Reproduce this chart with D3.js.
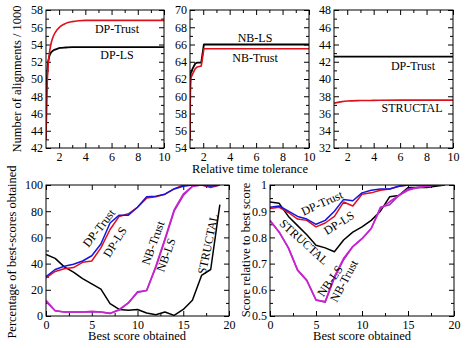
<!DOCTYPE html>
<html>
<head>
<meta charset="utf-8">
<script src="https://cdn.jsdelivr.net/npm/d3@7"></script>
<style>
  html, body { margin: 0; padding: 0; background: #fff; }
  svg, svg text { font-family: "Liberation Serif", "DejaVu Serif", serif; }
  svg { display: block; }
</style>
</head>
<body>
<svg id="chart" width="474" height="348"></svg>
<script>
// ---- Data ---------------------------------------------------------------
// Top row: alignments found vs. relative time tolerance
const tolA = [1, 1.03, 1.08, 1.15, 1.25, 1.4, 1.6, 1.85, 2.1, 2.5, 3, 3.5, 4, 5, 6, 8, 10];
const dpTrustA = [43, 46, 49, 51.3, 52.9, 54.2, 55.1, 55.7, 56.1, 56.45, 56.65, 56.75, 56.8, 56.8, 56.8, 56.8, 56.8];
const dpLsA    = [43, 47.5, 50.3, 51.8, 52.6, 53.1, 53.35, 53.5, 53.6, 53.65, 53.7, 53.7, 53.7, 53.7, 53.7, 53.7, 53.7];

const tolB = [1, 1.02, 1.06, 1.2, 1.4, 1.55, 1.85, 2.05, 10];
const nbTrustB = [55, 60.5, 62.1, 62.6, 63.2, 63.4, 63.5, 65.5, 65.5];
const nbLsB    = [55, 61.5, 62.7, 63.2, 63.8, 63.9, 63.9, 66.0, 66.0];

const tolC = [1, 1.5, 2, 3, 4, 6, 8, 10];
const dpTrustC  = [42.6, 42.6, 42.6, 42.6, 42.6, 42.6, 42.6, 42.6];
const structalC = [37.2, 37.35, 37.45, 37.5, 37.52, 37.55, 37.55, 37.55];

// Bottom row: per best-score bucket
const bestScore = d3.range(0, 20);
const pctDpTrust  = [30, 35.5, 38, 39.5, 42, 46, 55, 71, 77, 77, 83, 91, 91.5, 93, 97, 99, 100, 100, 99, 100];
const pctDpLs     = [29, 34, 36, 37, 41, 42, 52, 66, 76, 78, 83, 90, 91, 93, 97, 100, 100, 100, 98, 100];
const pctNbTrust  = [12, 4, 3, 3, 3, 3.5, 3, 2, 5, 10, 18.5, 19.5, 38, 59, 81, 93, 99, 100, 100, 100];
const pctNbLs     = [11, 4, 3, 3, 3, 3, 3, 2, 4.5, 10, 18, 19.5, 37, 58, 80, 92, 99, 100, 100, 100];
const pctStructal = [47, 44, 37.5, 33.5, 28.5, 24.5, 20.5, 9.5, 5, 4.3, 5, 2.3, 1, 3, 0.5, 5, 12, 31, 35.5, 85];

const relDpTrust  = [0.915, 0.92, 0.9, 0.88, 0.87, 0.85, 0.865, 0.9, 0.945, 0.94, 0.97, 0.98, 0.985, 0.985, 0.995, 1, 1, 1, 1, 1];
const relDpLs     = [0.91, 0.915, 0.895, 0.87, 0.865, 0.84, 0.855, 0.88, 0.935, 0.92, 0.965, 0.97, 0.98, 0.985, 0.995, 1, 1, 1, 1, 1];
const relStructal = [0.935, 0.93, 0.88, 0.845, 0.81, 0.77, 0.76, 0.745, 0.79, 0.82, 0.84, 0.865, 0.9, 0.955, 0.96, 0.99, 0.99, 0.99, 0.995, 1];
const relNbLs     = [0.865, 0.82, 0.76, 0.675, 0.636, 0.56, 0.555, 0.65, 0.72, 0.765, 0.795, 0.834, 0.91, 0.936, 0.96, 0.98, 0.99, 0.995, 1, 1];
const relNbTrust  = [0.865, 0.82, 0.76, 0.675, 0.636, 0.562, 0.553, 0.645, 0.715, 0.765, 0.795, 0.834, 0.915, 0.925, 0.96, 0.985, 0.99, 0.995, 1, 1];

const RED = "#e0101a", BLUE = "#1515e0", BLACK = "#000", MAGENTA = "#cc22cc", VIOLET = "#9a2ad0";
const FONT = "'Liberation Serif', 'DejaVu Serif', serif";

// ---- Drawing helpers ----------------------------------------------------
const svg = d3.select("#chart");

function panel(o) {
  const x = d3.scaleLinear().domain(o.xDomain).range([o.left, o.right]);
  const y = d3.scaleLinear().domain(o.yDomain).range([o.bottom, o.top]);
  const g = svg.append("g");

  const addAxis = (axis, transform, labels) => {
    const a = g.append("g").attr("transform", transform).call(axis)
      .attr("font-family", FONT).attr("font-size", 12);
    a.select(".domain").remove();
    a.selectAll("text").attr("fill", "#000");
    if (!labels) a.selectAll("text").remove();
    a.selectAll("line").attr("stroke", "#000");
  };
  // major + minor ticks on all four sides, pointing inward
  addAxis(d3.axisBottom(x).tickValues(o.xMajor).tickSize(-5).tickPadding(4).tickFormat(o.xFmt || d3.format("")), `translate(0,${o.bottom})`, true);
  addAxis(d3.axisBottom(x).tickValues(o.xMinor).tickSize(-3).tickFormat(""), `translate(0,${o.bottom})`, false);
  addAxis(d3.axisTop(x).tickValues(o.xMajor).tickSize(-5), `translate(0,${o.top})`, false);
  addAxis(d3.axisTop(x).tickValues(o.xMinor).tickSize(-3), `translate(0,${o.top})`, false);
  addAxis(d3.axisLeft(y).tickValues(o.yMajor).tickSize(-5).tickPadding(3).tickFormat(o.yFmt || d3.format("")), `translate(${o.left},0)`, true);
  addAxis(d3.axisLeft(y).tickValues(o.yMinor).tickSize(-3).tickFormat(""), `translate(${o.left},0)`, false);
  addAxis(d3.axisRight(y).tickValues(o.yMajor).tickSize(-5), `translate(${o.right},0)`, false);
  addAxis(d3.axisRight(y).tickValues(o.yMinor).tickSize(-3), `translate(${o.right},0)`, false);

  const clipId = "clip" + Math.round(o.left) + "_" + Math.round(o.top);
  svg.append("clipPath").attr("id", clipId).append("rect")
    .attr("x", o.left).attr("y", o.top).attr("width", o.right - o.left).attr("height", o.bottom - o.top);
  const plot = g.append("g").attr("clip-path", `url(#${clipId})`);

  o.series.forEach(s => {
    const line = d3.line().x((d, i) => x(s.x[i])).y(d => y(d)).curve(s.curve || d3.curveLinear);
    plot.append("path").datum(s.values)
      .attr("fill", "none").attr("stroke", s.color).attr("stroke-width", s.width || 1.5)
      .attr("stroke-linejoin", "round").attr("d", line);
  });

  g.append("rect").attr("x", o.left).attr("y", o.top)
    .attr("width", o.right - o.left).attr("height", o.bottom - o.top)
    .attr("fill", "none").attr("stroke", "#000").attr("stroke-width", 1);

  (o.labels || []).forEach(l => {
    g.append("text").attr("transform", `translate(${l.x},${l.y}) rotate(${l.rot || 0})`)
      .attr("text-anchor", "middle").attr("dominant-baseline", "central")
      .attr("font-family", FONT).attr("font-size", 12).attr("fill", "#000").text(l.text);
  });
  return { x, y };
}

function axisTitle(text, x, y, rot) {
  svg.append("text").attr("transform", `translate(${x},${y}) rotate(${rot || 0})`)
    .attr("text-anchor", "middle").attr("dominant-baseline", "central")
    .attr("font-family", FONT).attr("font-size", 12.5).attr("fill", "#000").text(text);
}

// ---- Top row --------------------------------------------------------------
const topCommon = {
  xDomain: [1, 10], xMajor: [2, 4, 6, 8, 10], xMinor: [3, 5, 7, 9],
  top: 10, bottom: 148
};
const evens = (a, b) => d3.range(a, b + 0.001, 2);
const odds = (a, b) => d3.range(a + 1, b, 2);

panel({ ...topCommon, left: 46, right: 164, yDomain: [42, 58], yMajor: evens(42, 58), yMinor: odds(42, 58),
  series: [
    { x: tolA, values: dpLsA, color: BLACK, width: 1.8, curve: d3.curveMonotoneX },
    { x: tolA, values: dpTrustA, color: RED, width: 1.6, curve: d3.curveMonotoneX }
  ],
  labels: [{ text: "DP-Trust", x: 117, y: 29 }, { text: "DP-LS", x: 117, y: 55 }]
});

panel({ ...topCommon, left: 190, right: 309, yDomain: [54, 70], yMajor: evens(54, 70), yMinor: odds(54, 70),
  series: [
    { x: tolB, values: nbLsB, color: BLACK, width: 1.8 },
    { x: tolB, values: nbTrustB, color: RED, width: 1.6 }
  ],
  labels: [{ text: "NB-LS", x: 255, y: 38 }, { text: "NB-Trust", x: 255, y: 58 }]
});

panel({ ...topCommon, left: 334, right: 453, yDomain: [32, 48], yMajor: evens(32, 48), yMinor: odds(32, 48),
  series: [
    { x: tolC, values: dpTrustC, color: BLACK, width: 1.6 },
    { x: tolC, values: structalC, color: RED, width: 1.6, curve: d3.curveMonotoneX }
  ],
  labels: [{ text: "DP-Trust", x: 413, y: 66 }, { text: "STRUCTAL", x: 412, y: 108 }]
});

axisTitle("Number of alignments / 1000", 17, 79, -90);
axisTitle("Relative time tolerance", 250, 169, 0);

// ---- Bottom row -----------------------------------------------------------
const botCommon = {
  xDomain: [0, 20], xMajor: [0, 5, 10, 15, 20], xMinor: [2.5, 7.5, 12.5, 17.5],
  top: 185, bottom: 316
};

panel({ ...botCommon, left: 46, right: 229, yDomain: [0, 100],
  yMajor: d3.range(0, 101, 20), yMinor: d3.range(10, 100, 20),
  series: [
    { x: bestScore, values: pctStructal, color: BLACK, width: 1.5 },
    { x: bestScore, values: pctNbLs, color: VIOLET, width: 1.6 },
    { x: bestScore, values: pctNbTrust, color: MAGENTA, width: 1.6 },
    { x: bestScore, values: pctDpLs, color: RED, width: 1.5 },
    { x: bestScore, values: pctDpTrust, color: BLUE, width: 1.5 }
  ],
  labels: [
    { text: "DP-Trust", x: 99, y: 228, rot: -52 },
    { text: "DP-LS", x: 115, y: 242, rot: -58 },
    { text: "NB-Trust", x: 153, y: 243, rot: -70 },
    { text: "NB-LS", x: 166, y: 255, rot: -70 },
    { text: "STRUCTAL", x: 208, y: 244, rot: -78 }
  ]
});

panel({ ...botCommon, left: 270, right: 454, yDomain: [0.5, 1],
  yMajor: [0.5, 0.6, 0.7, 0.8, 0.9, 1], yMinor: [0.55, 0.65, 0.75, 0.85, 0.95],
  yFmt: d => d === 1 ? "1" : d.toFixed(1),
  series: [
    { x: bestScore, values: relStructal, color: BLACK, width: 1.5 },
    { x: bestScore, values: relNbTrust, color: VIOLET, width: 1.6 },
    { x: bestScore, values: relNbLs, color: MAGENTA, width: 1.6 },
    { x: bestScore, values: relDpLs, color: RED, width: 1.5 },
    { x: bestScore, values: relDpTrust, color: BLUE, width: 1.5 }
  ],
  labels: [
    { text: "DP-Trust", x: 322, y: 203, rot: -24 },
    { text: "DP-LS", x: 339, y: 223, rot: -32 },
    { text: "STRUCTAL", x: 304, y: 242, rot: 42 },
    { text: "NB-LS", x: 330, y: 281, rot: -55 },
    { text: "NB-Trust", x: 344, y: 281, rot: -62 }
  ]
});

axisTitle("Percentage of best-scores obtained", 12, 252, -90);
axisTitle("Best score obtained", 137, 336, 0);
axisTitle("Score relative to best score", 246, 250, -90);
axisTitle("Best score obtained", 362, 336, 0);
</script>
</body>
</html>
